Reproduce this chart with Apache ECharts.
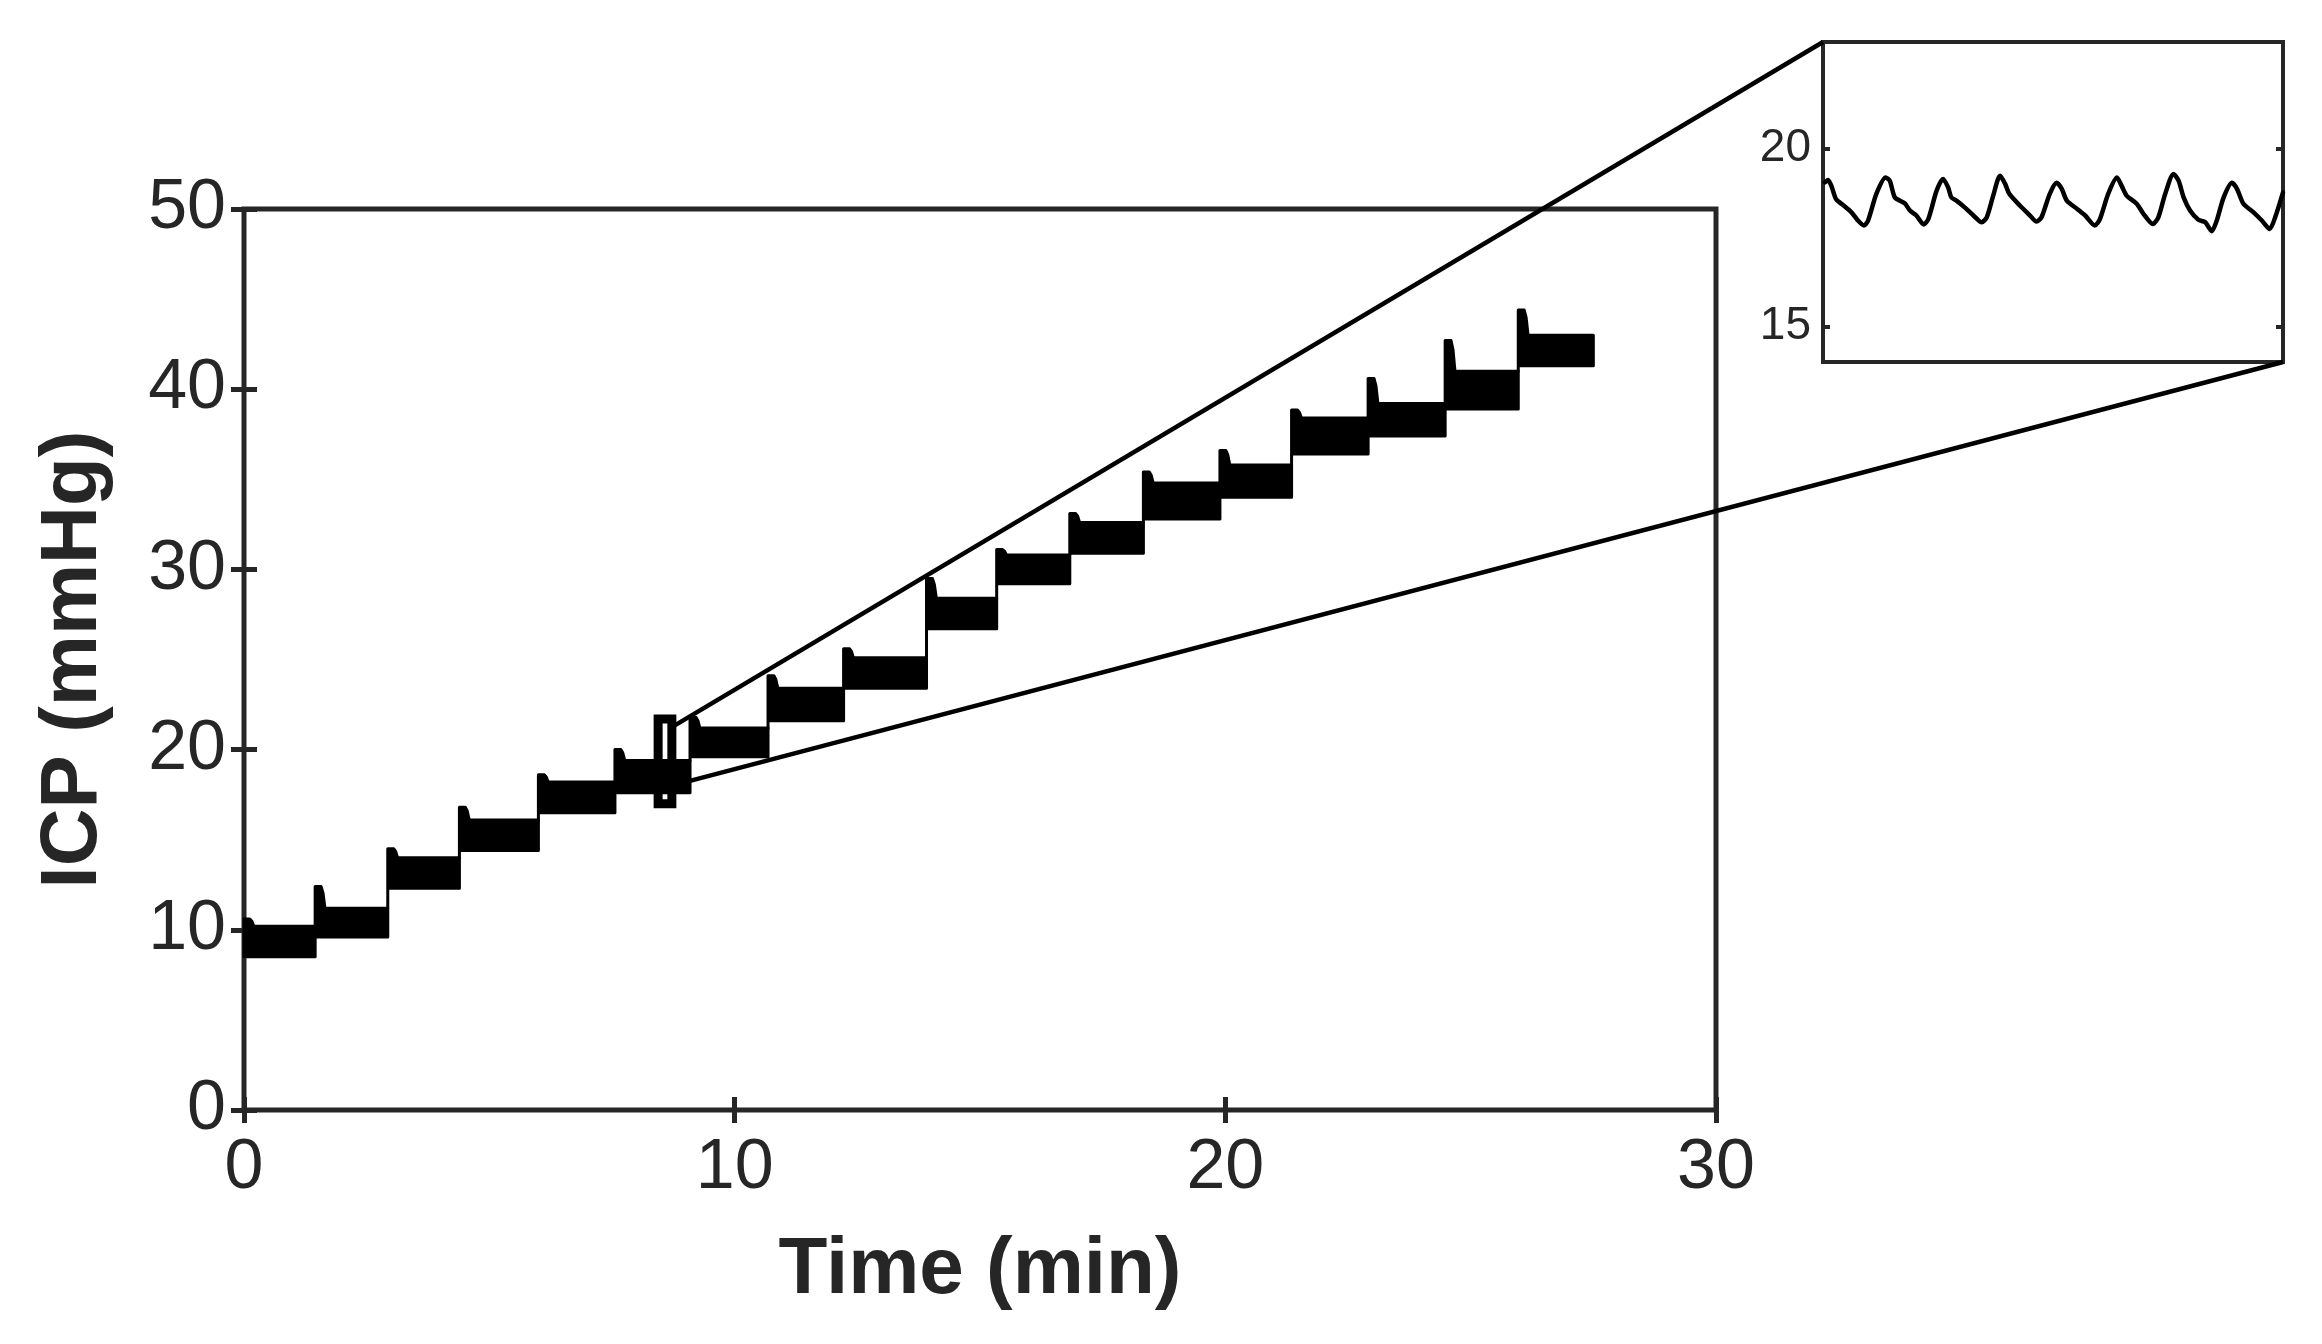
<!DOCTYPE html>
<html><head><meta charset="utf-8">
<script src="https://cdn.jsdelivr.net/npm/echarts@6/dist/echarts.min.js"></script>
<style>html,body{margin:0;padding:0;background:#fff}#c{width:2322px;height:1344px}</style>
</head><body><div id="c"></div>
<script>
// ---- main trace, read per plateau (minutes, mmHg) ----
const stepStart = [0, 1.45, 2.93, 4.39, 6.0, 7.56, 9.09, 10.68, 12.22, 13.91, 15.34, 16.83, 18.33, 19.89, 21.35, 22.91, 24.48, 25.97];
const stepEnd   = [1.45, 2.93, 4.39, 6.0, 7.56, 9.09, 10.68, 12.22, 13.91, 15.34, 16.83, 18.33, 19.89, 21.35, 22.91, 24.48, 25.97, 27.5];
const spikePeak = [10.6, 12.4, 14.5, 16.8, 18.6, 20.0, 21.8, 24.1, 25.6, 29.5, 31.1, 33.1, 35.4, 36.6, 38.85, 40.6, 42.7, 44.4];
const bandUpper = [10.2, 11.2, 14.0, 16.1, 18.2, 19.4, 21.2, 23.4, 25.1, 28.4, 30.8, 32.6, 34.8, 35.8, 38.4, 39.2, 41.0, 43.0];
const bandLower = [8.5, 9.6, 12.3, 14.4, 16.5, 17.6, 19.6, 21.6, 23.4, 26.7, 29.2, 30.9, 32.8, 34.0, 36.4, 37.4, 38.9, 41.3];
const xTicks = [0, 10, 20, 30];
const yTicks = [0, 10, 20, 30, 40, 50];
// ---- zoom box on main plot ----
const zoomBoxTime = [8.44, 8.72];
const zoomBoxICP = [17.0, 21.7];
const connectorICP = [21.25, 18.0];
// ---- inset waveform ----
const insetTime = [0.04,0.11,0.18,0.28,0.40,0.62,0.76,0.89,0.98,1.16,1.36,1.45,1.56,1.67,1.78,1.89,2.03,2.19,2.29,2.47,2.61,2.72,2.79,2.90,3.08,3.27,3.45,3.56,3.70,3.85,3.96,4.05,4.28,4.50,4.64,4.75,4.93,5.08,5.19,5.30,5.52,5.70,5.91,6.02,6.20,6.39,6.49,6.60,6.82,6.97,7.17,7.29,7.44,7.62,7.73,7.84,7.98,8.16,8.31,8.45,8.56,8.71,8.89,9.00,9.14,9.36,9.54,9.71,9.83,10.0];
const insetICP  = [19.05,19.12,18.96,18.59,18.45,18.21,17.98,17.84,17.98,18.73,19.19,19.10,18.63,18.54,18.46,18.26,18.12,17.87,18.02,18.82,19.15,18.91,18.63,18.54,18.35,18.12,17.93,18.07,18.68,19.24,19.01,18.73,18.40,18.12,17.95,18.07,18.73,19.04,18.87,18.54,18.31,18.12,17.84,18.02,18.73,19.19,18.96,18.68,18.45,18.16,17.88,18.07,18.73,19.29,19.10,18.63,18.26,18.00,17.93,17.68,17.98,18.63,19.04,18.87,18.45,18.21,17.98,17.74,18.07,18.77];
const insetYTicks = [15, 20];

const AX = '#262626';
const FONT = 'Liberation Sans, Arial, Helvetica, sans-serif';

const mainRows = stepStart.map((s, i) => [s, stepEnd[i], spikePeak[i], bandUpper[i], bandLower[i], i > 0 ? bandUpper[i - 1] : bandLower[i]]);

const chart = echarts.init(document.getElementById('c'), null, {renderer: 'canvas'});

function tickAxisCommon(extra) {
  return Object.assign({
    type: 'value',
    splitLine: {show: false},
    axisLine: {show: false},
    axisTick: {show: true, inside: true, length: 13, lineStyle: {color: AX, width: 5}},
    axisLabel: {show: false}
  }, extra);
}

const option = {
  animation: false,
  backgroundColor: '#fff',
  grid: [
    {left: 244, top: 209, width: 1472, height: 901, show: true, borderColor: AX, borderWidth: 5, backgroundColor: 'transparent'},
    {left: 1823, top: 42, width: 460, height: 320, show: true, borderColor: AX, borderWidth: 4, backgroundColor: 'transparent'}
  ],
  xAxis: [
    tickAxisCommon({gridIndex: 0, position: 'bottom', min: 0, max: 30, interval: 10,
      axisLabel: {show: true, fontSize: 70, color: AX, fontFamily: FONT, margin: 24},
      name: 'Time (min)', nameLocation: 'middle', nameGap: 121,
      nameTextStyle: {fontSize: 80, fontWeight: 'bold', color: AX, fontFamily: FONT}}),
    tickAxisCommon({gridIndex: 0, position: 'top', min: 0, max: 30, interval: 10}),
    {type: 'value', gridIndex: 1, min: 0, max: 10, show: false}
  ],
  yAxis: [
    tickAxisCommon({gridIndex: 0, position: 'left', min: 0, max: 50, interval: 10,
      axisLabel: {show: true, fontSize: 70, color: AX, fontFamily: FONT, margin: 18},
      name: 'ICP (mmHg)', nameLocation: 'middle', nameGap: 130, nameRotate: 90,
      nameTextStyle: {fontSize: 80, fontWeight: 'bold', color: AX, fontFamily: FONT}}),
    tickAxisCommon({gridIndex: 0, position: 'right', min: 0, max: 50, interval: 10}),
    {type: 'value', gridIndex: 1, position: 'left', min: 14, max: 23,
      splitLine: {show: false}, axisLine: {show: false},
      axisTick: {show: true, inside: true, length: 7, lineStyle: {color: AX, width: 4}, customValues: insetYTicks},
      axisLabel: {show: true, fontSize: 46, color: AX, fontFamily: FONT, margin: 12, customValues: insetYTicks}},
    {type: 'value', gridIndex: 1, position: 'right', min: 14, max: 23,
      splitLine: {show: false}, axisLine: {show: false},
      axisTick: {show: true, inside: true, length: 7, lineStyle: {color: AX, width: 4}, customValues: insetYTicks},
      axisLabel: {show: false}}
  ],
  series: [
    {
      type: 'custom', xAxisIndex: 0, yAxisIndex: 0, data: mainRows,
      encode: {x: [0, 1], y: [2, 3, 4]},
      renderItem: function (params, api) {
        const s = api.value(0), e = api.value(1), sp = api.value(2), u = api.value(3), l = api.value(4), pu = api.value(5);
        const pts = [[s, Math.min(l, pu)], [s, sp], [s + 0.12, sp], [s + 0.16, sp - (sp - u) * 0.3], [s + 0.2, u],
                     [e, u], [e, l], [s, l]].map(p => api.coord(p));
        return {type: 'polygon', shape: {points: pts}, style: {fill: '#000', stroke: '#000', lineWidth: 3, lineJoin: 'round'}};
      },
      z: 3
    },
    {
      type: 'custom', xAxisIndex: 0, yAxisIndex: 0, data: [[zoomBoxTime[0], zoomBoxTime[1], zoomBoxICP[0], zoomBoxICP[1]]],
      encode: {x: [0, 1], y: [2, 3]},
      renderItem: function (params, api) {
        const a = api.coord([api.value(0), api.value(3)]);
        const b = api.coord([api.value(1), api.value(2)]);
        return {type: 'rect', shape: {x: a[0], y: a[1], width: b[0] - a[0], height: b[1] - a[1]},
                style: {fill: 'none', stroke: '#000', lineWidth: 9}};
      },
      z: 4
    },
    {
      type: 'line', xAxisIndex: 2, yAxisIndex: 2,
      data: insetTime.map((t, i) => [t, insetICP[i]]),
      showSymbol: false, smooth: 0.25,
      lineStyle: {color: '#000', width: 4.5, cap: 'round', join: 'round'},
      z: 3
    }
  ]
};
chart.setOption(option);

const p1 = chart.convertToPixel({xAxisIndex: 0, yAxisIndex: 0}, [zoomBoxTime[1], connectorICP[0]]);
const p2 = chart.convertToPixel({xAxisIndex: 0, yAxisIndex: 0}, [zoomBoxTime[1], connectorICP[1]]);
const q1 = chart.convertToPixel({xAxisIndex: 2, yAxisIndex: 2}, [0, 23]);
const q2 = chart.convertToPixel({xAxisIndex: 2, yAxisIndex: 2}, [10, 14]);
chart.setOption({
  graphic: [
    {type: 'line', z: 100, shape: {x1: p1[0], y1: p1[1], x2: q1[0], y2: q1[1]}, style: {stroke: '#000', lineWidth: 4.5}},
    {type: 'line', z: 100, shape: {x1: p2[0], y1: p2[1], x2: q2[0], y2: q2[1]}, style: {stroke: '#000', lineWidth: 4.5}}
  ]
});
</script>
</body></html>
